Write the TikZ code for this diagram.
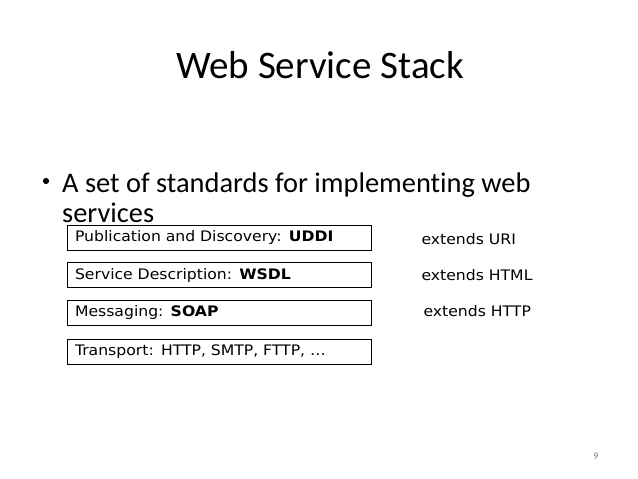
\documentclass[tikz,border=0pt]{standalone}
\usepackage{fontspec}
\setmainfont[Ligatures=NoCommon]{Carlito}
\newfontfamily\boxfont[FakeStretch=1.08]{DejaVu Sans}
\usetikzlibrary{positioning}
\tikzset{layer/.style={draw=black, semithick, minimum height=25pt, text width=288pt, inner xsep=8pt, inner ysep=0pt, align=left, font=\boxfont\fontsize{14.5}{16}\selectfont},
  ext/.style={anchor=west, inner sep=0pt, font=\boxfont\fontsize{14.5}{16}\selectfont},
  slidetext/.style={font=\fontsize{28.4}{32}\selectfont, anchor=base west, inner sep=0pt},
  every node/.style={text=black}}

\begin{document}
\begin{tikzpicture}[x=1pt,y=-1pt]
   \useasboundingbox (0,0) rectangle (638,479);
   \node[font=\fontsize{39}{46}\selectfont, anchor=base] (title) at (320,78) {Web Service Stack};
   \fill[black] (46,181) circle(3.1);
   \node[slidetext] (bullet) at (62,192) {A set of standards for implementing web};
   \node[slidetext] (bullet2) at (62,222) {services};
   \node[layer] (uddi) at (219,237.5) {Publication and Discovery: \textbf{UDDI}};
   \node[layer, below=12pt of uddi] (wsdl) {Service Description: \textbf{WSDL}};
   \node[layer, below=12pt of wsdl] (soap) {Messaging: \textbf{SOAP}};
   \node[layer, below=13pt of soap] (transport) {Transport: HTTP, SMTP, FTTP, …};
   \node[ext, right=50pt of uddi.east, yshift=-1.5pt] (uri) {extends URI};
   \node[ext, right=50pt of wsdl.east] (html) {extends HTML};
   \node[ext, right=52pt of soap.east, yshift=2pt] (http) {extends HTTP};
   \node[font=\fontsize{10}{12}\selectfont, text=black!55] (page) at (596,456) {9};
  \end{tikzpicture}
\end{document}
